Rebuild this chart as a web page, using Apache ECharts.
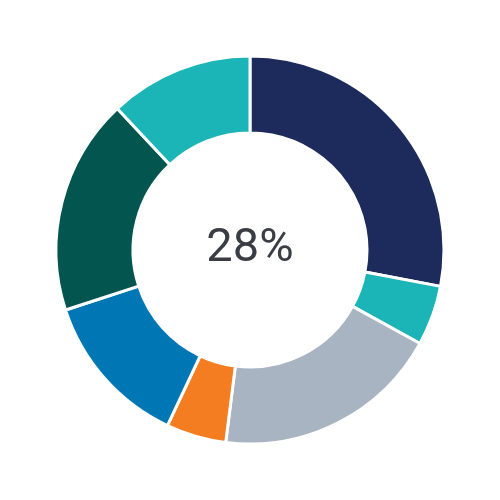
<!DOCTYPE html>
<html><head><meta charset="utf-8">
<script src="https://cdn.jsdelivr.net/npm/echarts@6/dist/echarts.min.js"></script>
<style>html,body{margin:0;padding:0;background:#fff}#c{width:500px;height:500px}</style>
</head><body><div id="c"></div>
<script>
const categories = ['A','B','C','D','E','F','G'];
const values = [28, 5, 19, 5, 13, 18, 12];
const colors = ['#1C2B5B', '#1BB5B7', '#A9B4C3', '#F37D20', '#0077B5', '#03564F', '#1BB5B7'];
const centerLabel = '28%';

const chart = echarts.init(document.getElementById('c'));
chart.setOption({
  animation: false,
  graphic: [{
    type: 'text', left: 'center', top: 226,
    style: { text: centerLabel, fontFamily: 'Roboto', fontSize: 47, fill: '#3A3D44' }
  }],
  series: [{
    type: 'pie',
    center: [250, 250],
    radius: [117, 194],
    startAngle: 90,
    clockwise: true,
    label: { show: false },
    labelLine: { show: false },
    itemStyle: { borderColor: '#fff', borderWidth: 3 },
    data: categories.map((c, i) => ({ name: c, value: values[i], itemStyle: { color: colors[i] } }))
  }]
});
</script></body></html>
